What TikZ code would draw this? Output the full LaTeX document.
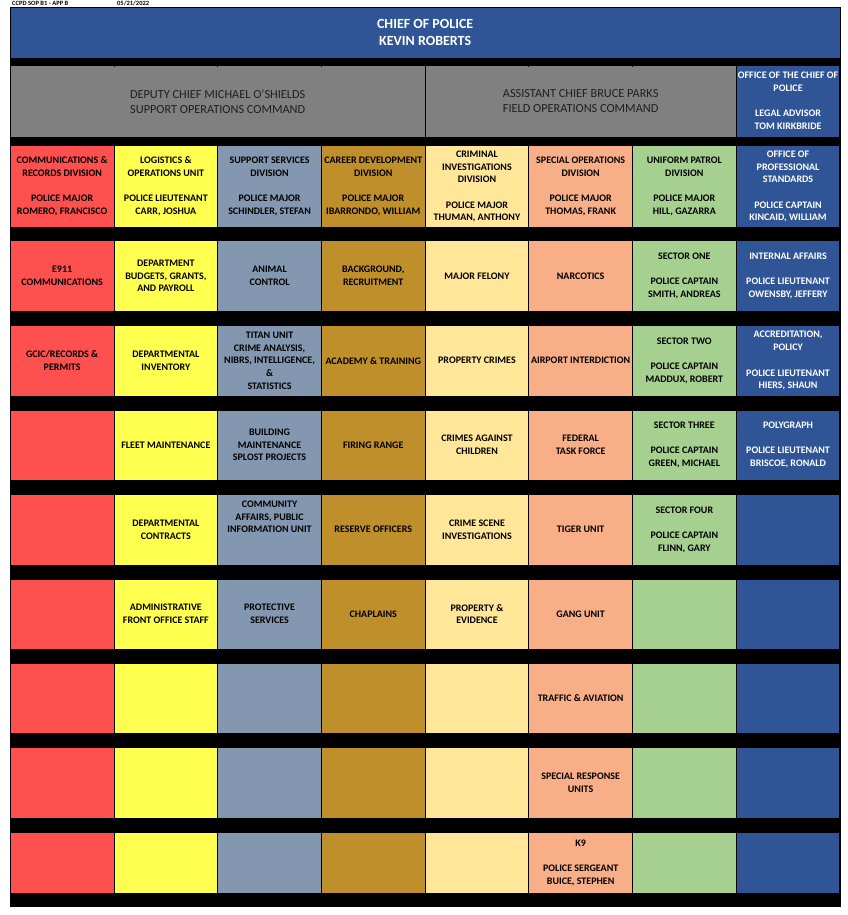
\documentclass[tikz,border=0pt]{standalone}
\usepackage{fontspec}
\setmainfont{Carlito}
\definecolor{cRed}{HTML}{FF5050}
\definecolor{cYel}{HTML}{FFFF4F}
\definecolor{cSlate}{HTML}{8497B0}
\definecolor{cGold}{HTML}{BF8F2C}
\definecolor{cLYel}{HTML}{FFE699}
\definecolor{cSalm}{HTML}{F8AF87}
\definecolor{cGrn}{HTML}{A6D08F}
\definecolor{cNavy}{HTML}{2F5597}
\definecolor{cGray}{HTML}{808080}
\newcommand\cellfont{\fontsize{10}{12.7}\selectfont\bfseries}
\def\XA{62.15}\def\XB{165.85}\def\XC{269.55}\def\XD{373.25}
\def\XE{476.95}\def\XF{580.65}\def\XG{684.35}\def\XH{788.05}
\def\YA{186.5}\def\HA{82.5}
\def\YB{276}\def\HB{71}
\def\YC{360.75}\def\HC{70.5}
\def\YD{445}\def\HD{70}
\def\YE{529.5}\def\HE{71}
\def\YF{614}\def\HF{70}
\def\YG{698}\def\HG{70}
\def\YH{782.5}\def\HH{71}
\def\YI{862.5}\def\HI{61}
\tikzset{
 cell/.style={rectangle,draw=black,line width=0.9pt,inner sep=0pt,minimum width=103.7pt,align=center,font=\cellfont,text=black},
 cA/.style={cell,fill=cRed},
 cB/.style={cell,fill=cYel},
 cC/.style={cell,fill=cSlate},
 cD/.style={cell,fill=cGold},
 cE/.style={cell,fill=cLYel},
 cF/.style={cell,fill=cSalm},
 cG/.style={cell,fill=cGrn},
 cH/.style={cell,fill=cNavy,text=white},
 graybox/.style={rectangle,draw=black,line width=0.9pt,inner sep=0pt,fill=cGray,minimum height=72pt,align=center,text=black!88,font=\fontsize{12.3}{15}\selectfont},
 topnote/.style={inner sep=0pt,anchor=base west,font=\fontsize{6.5}{7}\selectfont\bfseries}
}
\begin{document}
\begin{tikzpicture}[x=1pt,y=-1pt]
\useasboundingbox (0,0) rectangle (848,915);
\fill[white] (0,0) rectangle (848,915);
\node[topnote] (note1) at (12,6) {CCPD SOP B1 - APP B};
\node[topnote] (note2) at (117,6) {05/21/2022};
\fill[black] (10,7) rectangle (841,907);
% header
\node[rectangle,draw=black,line width=0.9pt,fill=cNavy,minimum width=829.7pt,minimum height=50.5pt,inner sep=0pt,align=center,text=white,font=\fontsize{14}{17}\selectfont\bfseries] (chief) at (425.15,32.75) {CHIEF OF POLICE\\KEVIN ROBERTS};
% command row
\node[graybox,minimum width=414.8pt] (deputy) at (217.7,101.5) {DEPUTY CHIEF MICHAEL O'SHIELDS\\SUPPORT OPERATIONS COMMAND};
\node[graybox,minimum width=311.1pt] (asst) at (580.65,101.5) {ASSISTANT CHIEF BRUCE PARKS\\FIELD OPERATIONS COMMAND};
\node[cH,minimum height=72pt] (office) at (\XH,101) {OFFICE OF THE CHIEF OF\\POLICE\\~\\LEGAL ADVISOR\\TOM KIRKBRIDE};
\foreach \tx in {114,217.7,321.4,528.8,632.5} \draw[black,line width=0.9pt] (\tx,65) -- (\tx,67.5);
% row 1
\node[cA,minimum height=\HA pt] (r1c1) at (\XA,\YA) {COMMUNICATIONS \&\\RECORDS DIVISION\\~\\POLICE MAJOR\\ROMERO, FRANCISCO};
\node[cB,minimum height=\HA pt] (r1c2) at (\XB,\YA) {LOGISTICS \&\\OPERATIONS UNIT\\~\\POLICE LIEUTENANT\\CARR, JOSHUA};
\node[cC,minimum height=\HA pt] (r1c3) at (\XC,\YA) {SUPPORT SERVICES\\DIVISION\\~\\POLICE MAJOR\\SCHINDLER, STEFAN};
\node[cD,minimum height=\HA pt] (r1c4) at (\XD,\YA) {CAREER DEVELOPMENT\\DIVISION\\~\\POLICE MAJOR\\IBARRONDO, WILLIAM};
\node[cE,minimum height=\HA pt] (r1c5) at (\XE,\YA) {CRIMINAL\\INVESTIGATIONS\\DIVISION\\~\\POLICE MAJOR\\THUMAN, ANTHONY};
\node[cF,minimum height=\HA pt] (r1c6) at (\XF,\YA) {SPECIAL OPERATIONS\\DIVISION\\~\\POLICE MAJOR\\THOMAS, FRANK};
\node[cG,minimum height=\HA pt] (r1c7) at (\XG,\YA) {UNIFORM PATROL\\DIVISION\\~\\POLICE MAJOR\\HILL, GAZARRA};
\node[cH,minimum height=\HA pt] (r1c8) at (\XH,\YA) {OFFICE OF\\PROFESSIONAL\\STANDARDS\\~\\POLICE CAPTAIN\\KINCAID, WILLIAM};
% row 2
\node[cA,minimum height=\HB pt] (r2c1) at (\XA,\YB) {E911\\COMMUNICATIONS};
\node[cB,minimum height=\HB pt] (r2c2) at (\XB,\YB) {DEPARTMENT\\BUDGETS, GRANTS,\\AND PAYROLL};
\node[cC,minimum height=\HB pt] (r2c3) at (\XC,\YB) {ANIMAL\\CONTROL};
\node[cD,minimum height=\HB pt] (r2c4) at (\XD,\YB) {BACKGROUND,\\RECRUITMENT};
\node[cE,minimum height=\HB pt] (r2c5) at (\XE,\YB) {MAJOR FELONY};
\node[cF,minimum height=\HB pt] (r2c6) at (\XF,\YB) {NARCOTICS};
\node[cG,minimum height=\HB pt] (r2c7) at (\XG,\YB) {SECTOR ONE\\~\\POLICE CAPTAIN\\SMITH, ANDREAS};
\node[cH,minimum height=\HB pt] (r2c8) at (\XH,\YB) {INTERNAL AFFAIRS\\~\\POLICE LIEUTENANT\\OWENSBY, JEFFERY};
% row 3
\node[cA,minimum height=\HC pt] (r3c1) at (\XA,\YC) {GCIC/RECORDS \&\\PERMITS};
\node[cB,minimum height=\HC pt] (r3c2) at (\XB,\YC) {DEPARTMENTAL\\INVENTORY};
\node[cC,minimum height=\HC pt] (r3c3) at (\XC,\YC) {TITAN UNIT\\CRIME ANALYSIS,\\NIBRS, INTELLIGENCE,\\\&\\STATISTICS};
\node[cD,minimum height=\HC pt] (r3c4) at (\XD,\YC) {ACADEMY \& TRAINING};
\node[cE,minimum height=\HC pt] (r3c5) at (\XE,\YC) {PROPERTY CRIMES};
\node[cF,minimum height=\HC pt] (r3c6) at (\XF,\YC) {AIRPORT INTERDICTION};
\node[cG,minimum height=\HC pt] (r3c7) at (\XG,\YC) {SECTOR TWO\\~\\POLICE CAPTAIN\\MADDUX, ROBERT};
\node[cH,minimum height=\HC pt] (r3c8) at (\XH,\YC) {ACCREDITATION,\\POLICY\\~\\POLICE LIEUTENANT\\HIERS, SHAUN};
% row 4
\node[cA,minimum height=\HD pt] (r4c1) at (\XA,\YD) {};
\node[cB,minimum height=\HD pt] (r4c2) at (\XB,\YD) {FLEET MAINTENANCE};
\node[cC,minimum height=\HD pt] (r4c3) at (\XC,\YD) {BUILDING\\MAINTENANCE\\SPLOST PROJECTS};
\node[cD,minimum height=\HD pt] (r4c4) at (\XD,\YD) {FIRING RANGE};
\node[cE,minimum height=\HD pt] (r4c5) at (\XE,\YD) {CRIMES AGAINST\\CHILDREN};
\node[cF,minimum height=\HD pt] (r4c6) at (\XF,\YD) {FEDERAL\\TASK FORCE};
\node[cG,minimum height=\HD pt] (r4c7) at (\XG,\YD) {SECTOR THREE\\~\\POLICE CAPTAIN\\GREEN, MICHAEL};
\node[cH,minimum height=\HD pt] (r4c8) at (\XH,\YD) {POLYGRAPH\\~\\POLICE LIEUTENANT\\BRISCOE, RONALD};
% row 5
\node[cA,minimum height=\HE pt] (r5c1) at (\XA,\YE) {};
\node[cB,minimum height=\HE pt] (r5c2) at (\XB,\YE) {DEPARTMENTAL\\CONTRACTS};
\node[cC,minimum height=\HE pt] (r5c3) at (\XC,\YE) {COMMUNITY\\AFFAIRS, PUBLIC\\INFORMATION UNIT\\~\\~};
\node[cD,minimum height=\HE pt] (r5c4) at (\XD,\YE) {RESERVE OFFICERS};
\node[cE,minimum height=\HE pt] (r5c5) at (\XE,\YE) {CRIME SCENE\\INVESTIGATIONS};
\node[cF,minimum height=\HE pt] (r5c6) at (\XF,\YE) {TIGER UNIT};
\node[cG,minimum height=\HE pt] (r5c7) at (\XG,\YE) {SECTOR FOUR\\~\\POLICE CAPTAIN\\FLINN, GARY};
\node[cH,minimum height=\HE pt] (r5c8) at (\XH,\YE) {};
% row 6
\node[cA,minimum height=\HF pt] (r6c1) at (\XA,\YF) {};
\node[cB,minimum height=\HF pt] (r6c2) at (\XB,\YF) {ADMINISTRATIVE\\FRONT OFFICE STAFF};
\node[cC,minimum height=\HF pt] (r6c3) at (\XC,\YF) {PROTECTIVE\\SERVICES};
\node[cD,minimum height=\HF pt] (r6c4) at (\XD,\YF) {CHAPLAINS};
\node[cE,minimum height=\HF pt] (r6c5) at (\XE,\YF) {PROPERTY \&\\EVIDENCE};
\node[cF,minimum height=\HF pt] (r6c6) at (\XF,\YF) {GANG UNIT};
\node[cG,minimum height=\HF pt] (r6c7) at (\XG,\YF) {};
\node[cH,minimum height=\HF pt] (r6c8) at (\XH,\YF) {};
% row 7
\node[cA,minimum height=\HG pt] (r7c1) at (\XA,\YG) {};
\node[cB,minimum height=\HG pt] (r7c2) at (\XB,\YG) {};
\node[cC,minimum height=\HG pt] (r7c3) at (\XC,\YG) {};
\node[cD,minimum height=\HG pt] (r7c4) at (\XD,\YG) {};
\node[cE,minimum height=\HG pt] (r7c5) at (\XE,\YG) {};
\node[cF,minimum height=\HG pt] (r7c6) at (\XF,\YG) {TRAFFIC \& AVIATION};
\node[cG,minimum height=\HG pt] (r7c7) at (\XG,\YG) {};
\node[cH,minimum height=\HG pt] (r7c8) at (\XH,\YG) {};
% row 8
\node[cA,minimum height=\HH pt] (r8c1) at (\XA,\YH) {};
\node[cB,minimum height=\HH pt] (r8c2) at (\XB,\YH) {};
\node[cC,minimum height=\HH pt] (r8c3) at (\XC,\YH) {};
\node[cD,minimum height=\HH pt] (r8c4) at (\XD,\YH) {};
\node[cE,minimum height=\HH pt] (r8c5) at (\XE,\YH) {};
\node[cF,minimum height=\HH pt] (r8c6) at (\XF,\YH) {SPECIAL RESPONSE\\UNITS};
\node[cG,minimum height=\HH pt] (r8c7) at (\XG,\YH) {};
\node[cH,minimum height=\HH pt] (r8c8) at (\XH,\YH) {};
% row 9
\node[cA,minimum height=\HI pt] (r9c1) at (\XA,\YI) {};
\node[cB,minimum height=\HI pt] (r9c2) at (\XB,\YI) {};
\node[cC,minimum height=\HI pt] (r9c3) at (\XC,\YI) {};
\node[cD,minimum height=\HI pt] (r9c4) at (\XD,\YI) {};
\node[cE,minimum height=\HI pt] (r9c5) at (\XE,\YI) {};
\node[cF,minimum height=\HI pt] (r9c6) at (\XF,\YI) {K9\\~\\POLICE SERGEANT\\BUICE, STEPHEN};
\node[cG,minimum height=\HI pt] (r9c7) at (\XG,\YI) {};
\node[cH,minimum height=\HI pt] (r9c8) at (\XH,\YI) {};
\end{tikzpicture}
\end{document}
